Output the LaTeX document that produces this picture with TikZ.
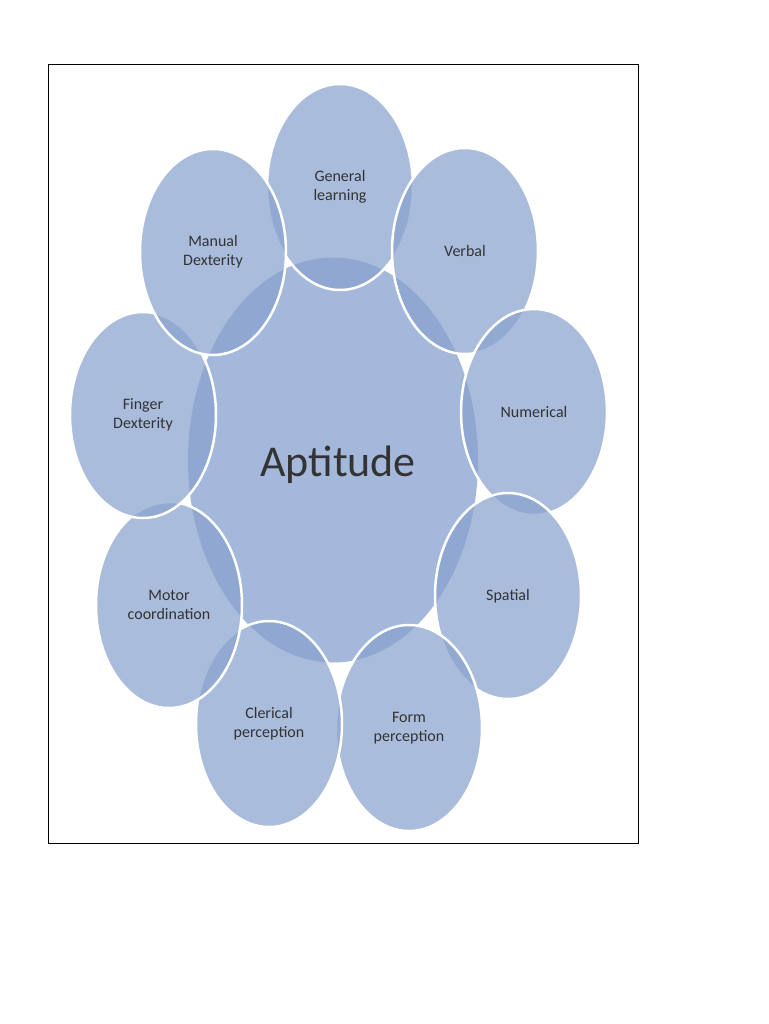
\documentclass[tikz,border=0pt]{standalone}
\usepackage{fontspec}
\setmainfont{Carlito}
\begin{document}
\begin{tikzpicture}[x=1pt,y=-1pt,
  sat/.style={ellipse, draw=white, line width=2.5pt, fill=satc, fill opacity=0.72, text opacity=1, text=txt, font=\fontsize{16}{19}\selectfont, align=center, minimum width=146pt, minimum height=206pt, inner sep=0pt}]
\usetikzlibrary{shapes.geometric}
\definecolor{satc}{HTML}{8AA3CE}
\definecolor{cen}{HTML}{A3B8DB}
\definecolor{txt}{HTML}{333333}
\useasboundingbox (0,0) rectangle (768,1024);
\fill[white] (0,0) rectangle (768,1024);
\node[draw=black, line width=0.8pt, minimum width=590pt, minimum height=779pt, inner sep=0pt] (frame) at (343,453.5) {};
\node[ellipse, fill=cen, minimum width=290pt, minimum height=405pt, inner sep=0pt] (c) at (333,460) {};
\node[sat] (g) at (340,187) {General\\learning};
\node[sat] (v) at (465,251) {Verbal};
\node[sat] (n) at (534,412) {Numerical};
\node[sat] (s) at (508,596) {Spatial};
\node[sat] (f) at (409,728) {Form\\perception};
\node[sat] (cl) at (269,724) {Clerical\\perception};
\node[sat] (m) at (169,605) {Motor\\coordination};
\node[sat] (fd) at (143,415) {Finger\\Dexterity};
\node[sat] (md) at (213,252) {Manual\\Dexterity};
\node[text=txt, font=\fontsize{44}{50}\selectfont] (a) at (338,465) {Aptitude};
\end{tikzpicture}
\end{document}
